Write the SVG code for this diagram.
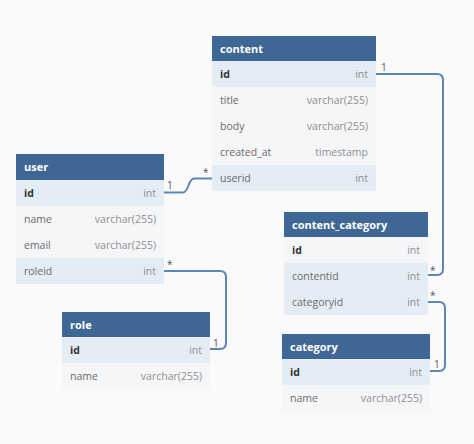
<svg xmlns="http://www.w3.org/2000/svg" width="474" height="444" viewBox="0 0 474 444">
<style>
.hd{fill:#3e6796}
.pk{fill:#e4edf6}
.rw{fill:#f5f6f8}
.ht{font-family:"Open Sans","Noto Sans",sans-serif;font-size:11px;font-weight:bold;fill:#ffffff}
.fn{font-family:"Open Sans","Noto Sans",sans-serif;font-size:10.5px;fill:#6b6b6b}
.fb{font-family:"Open Sans","Noto Sans",sans-serif;font-size:10.5px;font-weight:bold;fill:#333333}
.ty{font-family:"Open Sans","Noto Sans",sans-serif;font-size:10.5px;fill:#8f8f8f;text-anchor:end}
.lb{font-family:"Open Sans","Noto Sans",sans-serif;font-size:10px;fill:#555555}
.cn{fill:none;stroke:#5b87b8;stroke-width:2}
</style>
<rect x="0" y="0" width="474" height="444" fill="#fafafa"/>
<g id="connectors">
<path class="cn" d="M376,74 H437 Q443,74 443,80 V269 Q443,275 437,275 H428"/>
<path class="cn" d="M164,192.5 H183 C189,192.5 188,178.5 194,178.5 H212"/>
<path class="cn" d="M164,271 H220 Q226,271 226,277 V343 Q226,349 220,349 H210"/>
<path class="cn" d="M428,302 H439 Q445,302 445,308 V365 Q445,371 439,371 H430"/>
<text class="lb" x="381" y="71">1</text>
<text class="lb" x="430" y="274">*</text>
<text class="lb" x="430" y="299">*</text>
<text class="lb" x="434" y="368">1</text>
<text class="lb" x="167" y="189">1</text>
<text class="lb" x="203" y="176">*</text>
<text class="lb" x="167" y="268">*</text>
<text class="lb" x="213" y="347">1</text>
</g>
<g id="content">
<rect class="hd" x="212" y="36" width="164" height="25"/>
<text class="ht" x="220" y="52.5">content</text>
<rect class="pk" x="212" y="61" width="164" height="26"/>
<rect class="rw" x="212" y="87" width="164" height="78"/>
<rect class="pk" x="212" y="165" width="164" height="26"/>
<text class="fb" x="220" y="77.5">id</text><text class="ty" x="368" y="77.5">int</text>
<text class="fn" x="220" y="103.5">title</text><text class="ty" x="368" y="103.5">varchar(255)</text>
<text class="fn" x="220" y="129.5">body</text><text class="ty" x="368" y="129.5">varchar(255)</text>
<text class="fn" x="220" y="155.5">created_at</text><text class="ty" x="368" y="155.5">timestamp</text>
<text class="fn" x="220" y="181.5">userid</text><text class="ty" x="368" y="181.5">int</text>
</g>
<g id="user">
<rect class="hd" x="16" y="154" width="148" height="26"/>
<text class="ht" x="24" y="171">user</text>
<rect class="pk" x="16" y="180" width="148" height="26"/>
<rect class="rw" x="16" y="206" width="148" height="52"/>
<rect class="pk" x="16" y="258" width="148" height="26"/>
<text class="fb" x="24" y="196.5">id</text><text class="ty" x="156" y="196.5">int</text>
<text class="fn" x="24" y="222.5">name</text><text class="ty" x="156" y="222.5">varchar(255)</text>
<text class="fn" x="24" y="248.5">email</text><text class="ty" x="156" y="248.5">varchar(255)</text>
<text class="fn" x="24" y="274.5">roleid</text><text class="ty" x="156" y="274.5">int</text>
</g>
<g id="content_category">
<rect class="hd" x="284" y="212" width="144" height="25"/>
<text class="ht" x="292" y="228.5">content_category</text>
<rect class="rw" x="284" y="237" width="144" height="26"/>
<rect class="pk" x="284" y="263" width="144" height="52"/>
<text class="fb" x="292" y="253.5">id</text><text class="ty" x="420" y="253.5">int</text>
<text class="fn" x="292" y="279.5">contentid</text><text class="ty" x="420" y="279.5">int</text>
<text class="fn" x="292" y="305.5">categoryid</text><text class="ty" x="420" y="305.5">int</text>
</g>
<g id="role">
<rect class="hd" x="62" y="312" width="148" height="25"/>
<text class="ht" x="70" y="328.5">role</text>
<rect class="pk" x="62" y="337" width="148" height="26"/>
<rect class="rw" x="62" y="363" width="148" height="26"/>
<text class="fb" x="70" y="353.5">id</text><text class="ty" x="202" y="353.5">int</text>
<text class="fn" x="70" y="379.5">name</text><text class="ty" x="202" y="379.5">varchar(255)</text>
</g>
<g id="category">
<rect class="hd" x="282" y="334" width="148" height="25"/>
<text class="ht" x="290" y="350.5">category</text>
<rect class="pk" x="282" y="359" width="148" height="26"/>
<rect class="rw" x="282" y="385" width="148" height="26"/>
<text class="fb" x="290" y="375.5">id</text><text class="ty" x="422" y="375.5">int</text>
<text class="fn" x="290" y="401.5">name</text><text class="ty" x="422" y="401.5">varchar(255)</text>
</g>
</svg>
